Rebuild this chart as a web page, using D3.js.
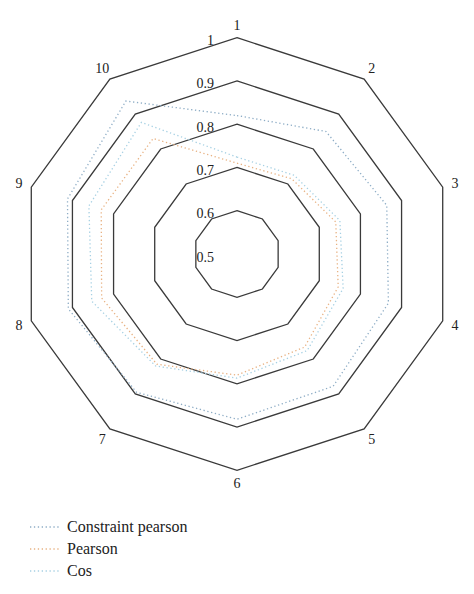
<!DOCTYPE html>
<html>
<head>
<meta charset="utf-8">
<script src="https://cdn.jsdelivr.net/npm/d3@7"></script>
<style>
  body { margin: 0; background: #fff; }
  text { font-family: "Liberation Serif", "DejaVu Serif", serif; fill: #222; }
</style>
</head>
<body>
<div class="chart"></div>
<script>
// axes 1..10
const axes = ["1", "2", "3", "4", "5", "6", "7", "8", "9", "10"]
const ringLevels = [0.5, 0.6, 0.7, 0.8, 0.9, 1]
const ringLabels = ["0.5", "0.6", "0.7", "0.8", "0.9", "1"]

const constraintPearson = [0.82, 0.85, 0.864, 0.868, 0.878, 0.882, 0.895, 0.91, 0.912, 0.937]
const cosValues = [0.724, 0.725, 0.75, 0.758, 0.776, 0.787, 0.82, 0.853, 0.86, 0.876]
const pearsonValues = [0.71, 0.715, 0.74, 0.746, 0.766, 0.78, 0.815, 0.829, 0.83, 0.83]

const seriesNames = ["Constraint pearson", "Pearson", "Cos"]
const seriesColors = ["#8eadc6", "#e8b283", "#a6d0e3"]

const series = [
  {name: seriesNames[0], values: constraintPearson, color: seriesColors[0]},
  {name: seriesNames[1], values: pearsonValues, color: seriesColors[1]},
  {name: seriesNames[2], values: cosValues, color: seriesColors[2]}
]

const width = 474, height = 594
const cx = 237, cy = 254

const svg = d3.select(".chart").append("svg")
  .attr("width", width)
  .attr("height", height)

const g = svg.append("g")
  .attr("transform", `translate(${cx},${cy})`)

const r = d3.scaleLinear()
  .domain([0.5, 1])
  .range([0, 216.3])

const angle = d3.scalePoint()
  .domain(axes)
  .range([0, 2 * Math.PI * (axes.length - 1) / axes.length])

const radial = d3.lineRadial()
  .angle((d, i) => angle(axes[i]))
  .radius(d => r(d))
  .curve(d3.curveLinearClosed)

// rings (skip 0.5, it is the centre)
g.append("g")
  .selectAll("path")
  .data(ringLevels.filter(v => v > 0.5))
  .enter()
  .append("path")
  .attr("d", v => radial(axes.map(() => v)))
  .attr("fill", "none")
  .attr("stroke", "#3a3a3a")
  .attr("stroke-width", 1.3)

// ring labels
g.append("g")
  .selectAll("text")
  .data(ringLevels)
  .enter()
  .append("text")
  .attr("x", -23)
  .attr("y", v => -r(v) + 7.5)
  .attr("text-anchor", "end")
  .attr("font-size", 14)
  .text((v, i) => ringLabels[i])

// series
g.append("g")
  .selectAll("path")
  .data(series)
  .enter()
  .append("path")
  .attr("d", d => radial(d.values))
  .attr("fill", "none")
  .attr("stroke", d => d.color)
  .attr("stroke-width", 1.3)
  .attr("stroke-dasharray", "1.3,2.6")

// axis labels
const labelR = r(1) + 13
g.append("g")
  .selectAll("text")
  .data(axes)
  .enter()
  .append("text")
  .attr("x", d => labelR * Math.sin(angle(d)))
  .attr("y", d => -labelR * Math.cos(angle(d)))
  .attr("dy", "0.35em")
  .attr("text-anchor", "middle")
  .attr("font-size", 14)
  .text(d => d)

// legend
const legend = svg.append("g")
  .attr("transform", "translate(30,527)")

const item = legend.selectAll("g")
  .data(series)
  .enter()
  .append("g")
  .attr("transform", (d, i) => `translate(0,${i * 22})`)

item.append("line")
  .attr("x1", 0)
  .attr("x2", 30)
  .attr("stroke", d => d.color)
  .attr("stroke-width", 1.3)
  .attr("stroke-dasharray", "1.3,2.6")

item.append("text")
  .attr("x", 37)
  .attr("y", 5)
  .attr("font-size", 16)
  .text(d => d.name)
</script>
</body>
</html>
